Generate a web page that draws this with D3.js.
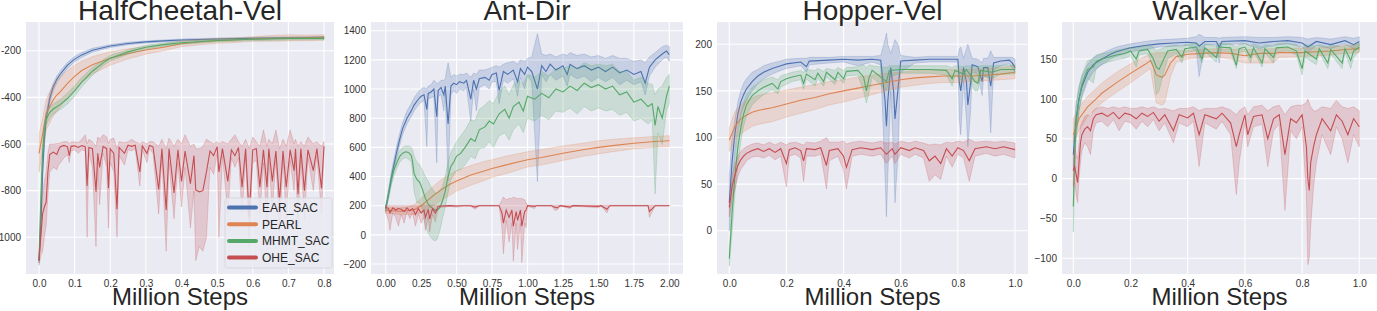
<!DOCTYPE html>
<html>
<head>
<meta charset="utf-8">
<script src="https://cdn.jsdelivr.net/npm/d3@7"></script>
<style>
  body { margin: 0; background: #fff; }
  svg { display: block; font-family: "Liberation Sans", Arial, sans-serif; }
</style>
</head>
<body>
<div id="chart"></div>
<script>
// series names and colours (seaborn "deep")
const seriesNames = ["EAR_SAC", "PEARL", "MHMT_SAC", "OHE_SAC"];
const seriesColors = ["#4c72b0", "#dd8452", "#55a868", "#c44e52"];

// every row: [million steps, mean, lower band, upper band]
// ---- HalfCheetah-Vel
const hcEar = [[0,-1100,-1110,-1090],[0.005,-950,-980,-920],[0.01,-720,-760,-690],[0.015,-580,-610,-550],[0.02,-490,-515,-465],[0.03,-405,-425,-385],[0.04,-355,-372,-340],[0.05,-322,-338,-308],[0.06,-300,-315,-287],[0.08,-262,-276,-250],[0.1,-236,-248,-225],[0.12,-218,-228,-208],[0.15,-198,-206,-190],[0.2,-180,-186,-174],[0.25,-169,-174,-164],[0.3,-162,-167,-158],[0.35,-158,-162,-154],[0.4,-154,-158,-150],[0.5,-150,-154,-146],[0.6,-147,-151,-143],[0.7,-145,-149,-141],[0.8,-143,-148,-139]];
const hcPearl = [[0,-640,-720,-560],[0.01,-560,-640,-490],[0.02,-470,-540,-410],[0.03,-440,-510,-375],[0.04,-410,-480,-345],[0.05,-390,-460,-325],[0.06,-375,-440,-312],[0.08,-340,-400,-285],[0.1,-310,-365,-262],[0.12,-285,-335,-245],[0.15,-260,-300,-225],[0.2,-232,-262,-205],[0.25,-212,-235,-192],[0.3,-197,-215,-182],[0.35,-185,-200,-172],[0.4,-170,-183,-158],[0.45,-163,-175,-152],[0.5,-157,-168,-147],[0.55,-154,-165,-145],[0.6,-150,-160,-140],[0.65,-148,-160,-135],[0.7,-146,-158,-132],[0.75,-145,-157,-133],[0.8,-143,-155,-132]];
const hcMhmt = [[0,-1100,-1110,-1090],[0.005,-850,-900,-800],[0.01,-640,-690,-600],[0.015,-540,-570,-510],[0.02,-495,-520,-470],[0.03,-465,-490,-440],[0.04,-450,-475,-428],[0.05,-440,-462,-418],[0.06,-430,-452,-408],[0.08,-405,-428,-382],[0.1,-372,-395,-350],[0.12,-335,-355,-315],[0.15,-288,-305,-272],[0.18,-252,-265,-240],[0.2,-232,-244,-220],[0.25,-205,-215,-196],[0.3,-185,-193,-177],[0.35,-174,-181,-167],[0.4,-166,-172,-160],[0.5,-156,-162,-150],[0.6,-151,-157,-146],[0.7,-148,-154,-143],[0.8,-147,-153,-142]];
const hcOhe = [[0,-1100,-1120,-1080],[0.005,-1000,-1080,-940],[0.01,-900,-1060,-820],[0.015,-870,-1000,-760],[0.02,-850,-950,-720],[0.025,-720,-820,-640],[0.03,-645,-720,-600],[0.04,-635,-700,-600],[0.05,-645,-710,-598],[0.055,-625,-690,-598],[0.06,-612,-680,-595],[0.07,-606,-660,-590],[0.08,-612,-645,-590],[0.085,-650,-680,-600],[0.09,-610,-630,-592],[0.1,-608,-625,-590],[0.11,-615,-640,-595],[0.12,-607,-625,-580],[0.13,-612,-630,-560],[0.135,-780,-1000,-600],[0.14,-615,-640,-580],[0.15,-620,-700,-590],[0.16,-805,-1040,-610],[0.165,-640,-700,-570],[0.17,-700,-860,-580],[0.18,-610,-640,-560],[0.19,-620,-700,-570],[0.195,-790,-960,-600],[0.2,-620,-680,-580],[0.21,-640,-720,-575],[0.219,-880,-1000,-620],[0.225,-615,-650,-590],[0.24,-640,-690,-595],[0.25,-605,-625,-590],[0.26,-610,-630,-580],[0.27,-605,-620,-590],[0.283,-720,-780,-600],[0.29,-608,-625,-590],[0.303,-640,-680,-600],[0.31,-606,-620,-590],[0.32,-612,-640,-590],[0.336,-795,-900,-610],[0.345,-620,-660,-580],[0.357,-883,-1060,-620],[0.365,-620,-680,-575],[0.379,-810,-920,-610],[0.39,-625,-680,-580],[0.4,-760,-870,-600],[0.41,-630,-700,-560],[0.425,-770,-960,-610],[0.435,-650,-800,-600],[0.44,-797,-1100,-620],[0.45,-805,-1040,-620],[0.46,-800,-1060,-610],[0.47,-720,-1000,-580],[0.48,-630,-700,-590],[0.49,-650,-730,-600],[0.5,-612,-640,-590],[0.505,-720,-1000,-600],[0.515,-620,-650,-590],[0.53,-760,-900,-600],[0.54,-625,-660,-580],[0.55,-650,-700,-560],[0.56,-615,-660,-590],[0.57,-785,-900,-610],[0.58,-620,-660,-580],[0.59,-913,-1040,-620],[0.6,-625,-680,-570],[0.61,-620,-670,-590],[0.62,-785,-900,-610],[0.63,-625,-680,-540],[0.64,-785,-960,-610],[0.645,-620,-670,-580],[0.655,-760,-880,-600],[0.665,-630,-670,-540],[0.675,-843,-980,-620],[0.685,-630,-670,-580],[0.694,-785,-920,-610],[0.705,-625,-670,-540],[0.716,-714,-800,-600],[0.72,-620,-670,-580],[0.727,-815,-950,-610],[0.735,-620,-670,-590],[0.745,-800,-920,-610],[0.755,-625,-660,-570],[0.77,-714,-800,-600],[0.78,-620,-650,-590],[0.793,-790,-900,-610],[0.8,-610,-640,-590]];

// ---- Ant-Dir
const adEar = [[0,180,160,200],[0.02,280,250,310],[0.04,390,350,430],[0.06,490,450,530],[0.08,580,540,620],[0.1,660,620,700],[0.12,730,690,770],[0.15,800,760,850],[0.18,850,810,900],[0.2,890,850,940],[0.23,930,890,980],[0.25,950,910,1000],[0.27,960,920,1010],[0.29,860,605,1000],[0.3,970,930,1020],[0.32,980,940,1030],[0.34,1000,950,1060],[0.36,810,495,1040],[0.37,990,950,1040],[0.39,1010,960,1060],[0.41,960,850,1060],[0.42,1020,970,1070],[0.44,760,370,1180],[0.46,1020,960,1080],[0.48,1040,990,1100],[0.5,1030,970,1090],[0.52,1050,1000,1100],[0.55,1040,990,1100],[0.57,1060,1010,1110],[0.6,930,780,1080],[0.62,1060,1000,1110],[0.64,1000,850,1100],[0.66,1070,1010,1130],[0.7,1080,1030,1130],[0.73,1060,1000,1140],[0.75,1100,1050,1150],[0.78,1110,1050,1160],[0.8,990,900,1150],[0.83,1120,1060,1170],[0.86,1100,1040,1180],[0.9,1130,1070,1190],[0.93,1050,950,1170],[0.95,1140,1080,1200],[0.98,1100,1000,1190],[1.0,1150,1090,1210],[1.03,1120,1050,1220],[1.07,1000,365,1380],[1.1,1160,1100,1240],[1.13,1120,1050,1230],[1.16,1170,1100,1240],[1.2,1130,1060,1220],[1.25,1160,1090,1240],[1.28,1100,1020,1230],[1.3,1170,1100,1250],[1.35,1140,1070,1230],[1.4,1160,1090,1240],[1.45,1130,1050,1220],[1.5,1150,1080,1230],[1.55,1120,1050,1210],[1.6,1150,1080,1230],[1.65,1110,1030,1210],[1.7,1130,1060,1210],[1.75,1100,1030,1190],[1.8,1120,1050,1200],[1.83,1040,960,1180],[1.86,1150,1090,1220],[1.9,1200,1150,1250],[1.95,1240,1200,1290],[1.98,1260,1220,1300],[2.0,1235,1190,1290]];
const adPearl = [[0,170,150,190],[0.05,165,145,185],[0.1,162,140,185],[0.15,165,140,190],[0.2,172,140,205],[0.25,200,150,250],[0.3,240,180,300],[0.35,280,210,345],[0.4,315,240,385],[0.45,345,270,415],[0.5,370,300,440],[0.6,410,340,475],[0.7,440,375,505],[0.75,455,395,515],[0.85,480,420,540],[1.0,515,465,570],[1.1,530,480,585],[1.25,560,510,610],[1.4,585,540,630],[1.5,600,555,645],[1.6,612,570,655],[1.75,628,590,665],[1.9,640,600,675],[2.0,645,605,680]];
const adMhmt = [[0,180,160,200],[0.02,280,250,310],[0.04,380,345,420],[0.06,450,410,490],[0.08,500,460,540],[0.1,540,500,580],[0.12,560,520,600],[0.14,570,530,610],[0.16,565,520,610],[0.18,545,500,600],[0.19,500,420,580],[0.2,420,300,540],[0.22,380,220,500],[0.24,360,220,480],[0.26,310,170,440],[0.28,250,60,400],[0.3,210,10,370],[0.32,190,-20,330],[0.34,175,-40,300],[0.36,165,-35,280],[0.38,185,20,300],[0.4,230,110,330],[0.42,300,190,400],[0.44,400,290,500],[0.46,470,380,570],[0.48,500,410,600],[0.5,540,440,640],[0.53,560,450,680],[0.56,600,480,720],[0.6,660,540,790],[0.63,640,520,780],[0.66,720,590,860],[0.7,740,600,890],[0.73,780,640,920],[0.76,760,600,900],[0.8,830,680,980],[0.84,860,700,1020],[0.87,800,650,960],[0.9,880,720,1030],[0.94,910,760,1060],[0.97,850,700,1030],[1.0,950,800,1100],[1.05,930,780,1080],[1.1,970,820,1120],[1.15,940,790,1090],[1.2,1000,850,1140],[1.25,980,840,1140],[1.3,1020,870,1160],[1.35,990,830,1140],[1.4,1040,880,1180],[1.45,1010,850,1160],[1.5,1030,870,1170],[1.55,1000,850,1160],[1.6,1020,860,1170],[1.65,960,820,1120],[1.7,980,840,1120],[1.75,910,780,1060],[1.8,930,800,1080],[1.85,880,760,1040],[1.88,900,790,1030],[1.9,750,280,960],[1.92,880,700,1000],[1.95,800,620,1020],[1.98,950,850,1080],[2.0,1020,900,1100]];
const adOhe = [[0,190,150,205],[0.02,180,100,200],[0.03,150,30,200],[0.05,185,150,200],[0.07,170,120,200],[0.09,180,60,200],[0.11,175,140,200],[0.13,160,80,200],[0.15,185,160,200],[0.17,165,110,200],[0.19,180,150,200],[0.21,140,60,200],[0.23,180,140,200],[0.25,150,80,200],[0.27,170,120,205],[0.28,120,30,200],[0.3,175,120,205],[0.31,110,20,200],[0.33,180,140,205],[0.35,150,90,200],[0.37,195,185,202],[0.4,198,190,202],[0.45,200,195,202],[0.5,198,190,202],[0.55,200,198,202],[0.6,200,196,202],[0.63,190,175,202],[0.66,200,198,202],[0.8,200,198,202],[0.82,150,50,240],[0.83,80,-130,260],[0.85,170,100,240],[0.87,120,-50,250],[0.89,170,80,250],[0.9,60,-180,260],[0.92,160,80,250],[0.93,100,-100,250],[0.95,170,80,250],[0.96,60,-190,250],[0.98,160,80,240],[0.99,170,50,220],[1.0,200,196,202],[1.05,195,180,202],[1.06,200,198,202],[1.17,200,198,202],[1.19,190,170,202],[1.21,185,170,202],[1.23,200,198,202],[1.3,190,180,202],[1.32,200,198,202],[1.5,195,185,202],[1.52,200,198,202],[1.56,175,150,202],[1.58,200,198,202],[1.85,200,198,202],[1.86,160,120,202],[1.88,180,160,202],[1.9,200,198,202],[2.0,200,198,202]];

// ---- Hopper-Vel
const hpEar = [[0,30,0,60],[0.01,75,50,100],[0.02,105,85,120],[0.03,125,110,138],[0.04,138,125,150],[0.05,146,133,158],[0.06,152,140,163],[0.08,160,150,170],[0.1,166,158,173],[0.12,170,163,177],[0.15,174,168,180],[0.18,177,172,182],[0.2,179,174,184],[0.25,181,177,185],[0.27,176,170,185],[0.28,182,178,186],[0.35,183,180,186],[0.4,184,181,187],[0.45,183,177,187],[0.5,184,181,187],[0.53,183,178,188],[0.545,140,60,205],[0.55,112,15,212],[0.555,140,60,200],[0.565,175,150,190],[0.575,150,80,200],[0.58,120,30,205],[0.59,150,80,200],[0.6,182,170,188],[0.65,183,180,186],[0.7,184,181,187],[0.75,184,181,187],[0.8,184,181,187],[0.805,160,120,195],[0.81,150,103,197],[0.82,175,160,185],[0.83,160,120,195],[0.835,135,90,200],[0.845,160,130,190],[0.85,178,170,185],[0.87,176,168,184],[0.885,160,145,180],[0.89,175,165,185],[0.905,175,165,185],[0.915,155,105,193],[0.925,180,172,186],[0.95,182,177,186],[0.98,183,179,186],[0.99,180,175,186],[1.0,175,170,184]];
const hpPearl = [[0,97,85,110],[0.01,105,90,120],[0.02,112,98,128],[0.04,120,104,135],[0.06,124,108,140],[0.08,127,112,143],[0.1,129,114,145],[0.15,132,117,148],[0.2,136,122,151],[0.25,140,126,154],[0.3,143,130,157],[0.35,147,135,160],[0.4,150,138,162],[0.45,153,142,165],[0.5,156,146,167],[0.55,159,150,169],[0.6,162,154,170],[0.65,164,156,172],[0.7,165,158,173],[0.75,166,159,173],[0.8,166,159,173],[0.85,166,160,173],[0.9,167,161,174],[0.95,168,162,175],[1.0,170,163,177]];
const hpMhmt = [[0,-30,-38,-20],[0.01,20,0,40],[0.02,60,40,80],[0.03,90,70,105],[0.04,110,95,125],[0.05,125,112,137],[0.06,135,123,146],[0.08,145,135,154],[0.1,150,141,158],[0.12,154,146,162],[0.15,158,151,165],[0.17,152,147,162],[0.18,160,154,166],[0.2,163,157,168],[0.22,165,160,170],[0.25,167,162,172],[0.26,158,152,170],[0.27,168,163,173],[0.3,162,155,172],[0.31,169,164,174],[0.33,160,155,171],[0.34,170,165,174],[0.37,162,157,172],[0.38,170,165,175],[0.4,163,158,172],[0.41,171,166,175],[0.45,172,167,176],[0.47,165,150,178],[0.48,150,137,175],[0.49,165,150,178],[0.5,172,165,177],[0.55,160,150,175],[0.56,172,165,177],[0.6,173,169,177],[0.7,173,169,177],[0.76,172,167,177],[0.78,163,155,175],[0.79,172,167,177],[0.82,168,160,176],[0.83,173,168,177],[0.86,160,150,176],[0.87,158,150,176],[0.88,172,167,177],[0.92,170,163,177],[0.95,173,168,177],[1.0,173,168,178]];
const hpOhe = [[0,25,15,35],[0.01,48,35,60],[0.02,60,45,72],[0.03,70,58,80],[0.04,76,66,85],[0.05,80,70,88],[0.06,83,75,90],[0.08,86,79,93],[0.1,88,80,94],[0.12,85,78,92],[0.14,88,81,95],[0.16,84,76,92],[0.18,88,80,95],[0.2,72,47,92],[0.21,87,80,94],[0.23,89,82,95],[0.25,86,78,93],[0.26,75,53,92],[0.27,88,80,95],[0.3,87,80,94],[0.32,89,82,96],[0.34,70,45,100],[0.35,86,75,95],[0.38,88,80,95],[0.4,80,65,96],[0.41,68,45,93],[0.43,87,80,95],[0.46,89,82,96],[0.5,87,80,94],[0.53,89,82,96],[0.55,82,72,94],[0.57,88,80,95],[0.58,82,72,93],[0.6,89,82,96],[0.63,86,78,94],[0.65,89,82,96],[0.68,86,78,94],[0.7,75,53,92],[0.72,80,60,93],[0.74,72,55,92],[0.76,88,80,95],[0.78,80,68,94],[0.8,89,82,96],[0.82,86,78,95],[0.84,75,53,98],[0.86,88,80,95],[0.9,90,83,96],[0.93,88,80,95],[0.96,90,82,96],[1.0,87,78,94]];

// ---- Walker-Vel
const wkEar = [[0,30,10,50],[0.01,75,55,95],[0.02,100,85,115],[0.03,115,102,128],[0.05,133,122,143],[0.07,143,134,152],[0.1,150,143,157],[0.13,156,150,162],[0.15,159,153,165],[0.2,164,159,169],[0.25,167,162,172],[0.3,169,165,174],[0.35,170,166,175],[0.4,171,167,176],[0.43,170,160,178],[0.44,166,128,181],[0.46,172,168,177],[0.5,172,168,177],[0.51,165,145,176],[0.52,172,168,177],[0.6,173,169,178],[0.65,170,163,177],[0.7,172,167,177],[0.75,173,169,178],[0.8,170,165,177],[0.82,165,158,175],[0.85,172,167,177],[0.9,168,163,175],[0.95,173,169,178],[0.98,168,163,176],[1.0,172,167,178]];
const wkPearl = [[0,55,45,75],[0.02,75,60,90],[0.05,90,78,103],[0.08,100,88,113],[0.1,107,95,120],[0.15,120,108,133],[0.2,132,120,144],[0.25,143,133,153],[0.27,148,138,157],[0.28,140,115,157],[0.29,130,95,158],[0.31,127,92,158],[0.32,130,95,158],[0.34,145,128,158],[0.36,153,146,160],[0.4,156,150,161],[0.45,157,152,162],[0.5,158,153,163],[0.55,157,150,162],[0.6,154,145,162],[0.65,157,145,162],[0.7,157,145,163],[0.72,158,152,163],[0.8,158,153,164],[0.85,159,154,164],[0.9,160,155,165],[0.95,162,157,167],[1.0,163,158,168]];
const wkMhmt = [[0,-35,-67,0],[0.005,30,0,60],[0.01,70,50,90],[0.02,100,85,115],[0.03,118,105,130],[0.05,137,126,148],[0.07,140,120,150],[0.08,147,138,155],[0.1,150,143,157],[0.12,152,146,158],[0.15,155,149,161],[0.18,157,151,163],[0.2,160,154,165],[0.22,150,140,163],[0.23,160,155,165],[0.26,162,157,167],[0.28,150,140,165],[0.29,140,105,160],[0.3,137,110,162],[0.31,145,125,163],[0.33,160,150,166],[0.36,162,157,167],[0.38,152,145,165],[0.39,163,158,168],[0.43,165,160,170],[0.45,150,145,166],[0.46,164,159,169],[0.5,152,146,166],[0.51,165,160,170],[0.55,164,159,169],[0.57,142,138,165],[0.58,163,158,168],[0.6,165,160,170],[0.62,152,145,166],[0.63,164,159,169],[0.66,145,140,165],[0.67,163,158,168],[0.7,152,145,166],[0.71,164,159,169],[0.75,165,160,170],[0.78,160,155,168],[0.8,138,130,162],[0.81,160,152,168],[0.85,150,143,166],[0.86,163,158,168],[0.89,145,138,165],[0.9,162,156,168],[0.94,145,138,165],[0.95,163,158,168],[0.97,148,138,165],[0.98,160,152,168],[1.0,165,160,170]];
const wkOhe = [[0,10,-10,30],[0.005,15,-5,40],[0.01,5,-20,30],[0.015,-5,-30,25],[0.02,20,0,45],[0.025,45,20,65],[0.03,55,35,70],[0.04,62,45,78],[0.05,65,40,80],[0.06,60,30,78],[0.07,75,60,85],[0.08,80,70,88],[0.1,82,72,90],[0.12,78,65,88],[0.14,83,74,90],[0.16,75,60,88],[0.18,82,72,90],[0.2,80,70,88],[0.22,75,62,88],[0.24,82,72,90],[0.26,78,65,88],[0.28,83,74,90],[0.3,72,60,87],[0.32,80,70,88],[0.35,60,45,85],[0.37,80,70,88],[0.4,76,65,88],[0.42,82,72,90],[0.44,55,15,85],[0.46,80,70,88],[0.5,75,62,88],[0.52,82,72,90],[0.55,70,55,86],[0.57,40,-20,80],[0.58,55,20,85],[0.6,80,70,90],[0.61,55,40,80],[0.63,78,65,90],[0.66,80,68,92],[0.68,50,15,85],[0.7,75,60,90],[0.72,80,68,92],[0.74,30,-40,80],[0.76,75,60,90],[0.78,70,50,92],[0.8,80,65,92],[0.815,40,-20,95],[0.82,0,-108,100],[0.825,-15,-100,95],[0.83,20,-60,90],[0.84,40,-10,85],[0.85,55,20,85],[0.87,75,55,90],[0.9,60,30,88],[0.92,80,65,98],[0.94,72,50,90],[0.96,55,20,88],[0.98,75,55,90],[1.0,65,40,85]];

// ticks
const hcXTicks = [0, 0.1, 0.2, 0.3, 0.4, 0.5, 0.6, 0.7, 0.8];
const hcXLabels = ["0.0", "0.1", "0.2", "0.3", "0.4", "0.5", "0.6", "0.7", "0.8"];
const hcYTicks = [-1000, -800, -600, -400, -200];
const hcYLabels = ["-1000", "-800", "-600", "-400", "-200"];
const adXTicks = [0, 0.25, 0.5, 0.75, 1, 1.25, 1.5, 1.75, 2];
const adXLabels = ["0.00", "0.25", "0.50", "0.75", "1.00", "1.25", "1.50", "1.75", "2.00"];
const adYTicks = [-200, 0, 200, 400, 600, 800, 1000, 1200, 1400];
const adYLabels = ["\u2212200", "0", "200", "400", "600", "800", "1000", "1200", "1400"];
const hpXTicks = [0, 0.2, 0.4, 0.6, 0.8, 1];
const hpXLabels = ["0.0", "0.2", "0.4", "0.6", "0.8", "1.0"];
const hpYTicks = [0, 50, 100, 150, 200];
const hpYLabels = ["0", "50", "100", "150", "200"];
const wkXTicks = [0, 0.2, 0.4, 0.6, 0.8, 1];
const wkXLabels = ["0.0", "0.2", "0.4", "0.6", "0.8", "1.0"];
const wkYTicks = [-100, -50, 0, 50, 100, 150];
const wkYLabels = ["\u2212100", "\u221250", "0", "50", "100", "150"];

const width = 1377, height = 311;
const plotTop = 22, plotBottom = 274;

const panels = [
  { title: "HalfCheetah-Vel", data: [hcEar, hcPearl, hcMhmt, hcOhe],
    xt: hcXTicks, xl: hcXLabels, yt: hcYTicks, yl: hcYLabels,
    left: 26, right: 334, xPx: [39, 324], yPx: [237.3, 50.7], legend: true },
  { title: "Ant-Dir", data: [adEar, adPearl, adMhmt, adOhe],
    xt: adXTicks, xl: adXLabels, yt: adYTicks, yl: adYLabels,
    left: 371, right: 683, xPx: [385.7, 669.3], yPx: [264, 30.7] },
  { title: "Hopper-Vel", data: [hpEar, hpPearl, hpMhmt, hpOhe],
    xt: hpXTicks, xl: hpXLabels, yt: hpYTicks, yl: hpYLabels,
    left: 717, right: 1028, xPx: [729.3, 1015], yPx: [230.7, 44.3] },
  { title: "Walker-Vel", data: [wkEar, wkPearl, wkMhmt, wkOhe],
    xt: wkXTicks, xl: wkXLabels, yt: wkYTicks, yl: wkYLabels,
    left: 1062, right: 1377, xPx: [1073.3, 1359.3], yPx: [258.3, 59] }
];

const svg = d3.select("#chart").append("svg")
    .attr("width", width)
    .attr("height", height)
    .attr("viewBox", [0, 0, width, height]);

svg.append("rect").attr("width", width).attr("height", height).attr("fill", "#fff");

panels.forEach((p, pi) => {
  const x = d3.scaleLinear()
      .domain([p.xt[0], p.xt[p.xt.length - 1]])
      .range(p.xPx);
  const y = d3.scaleLinear()
      .domain([p.yt[0], p.yt[p.yt.length - 1]])
      .range(p.yPx);

  const g = svg.append("g");

  g.append("rect")
      .attr("x", p.left).attr("y", plotTop)
      .attr("width", p.right - p.left).attr("height", plotBottom - plotTop)
      .attr("fill", "#eaeaf2");

  // white grid
  g.append("g").selectAll("line").data(p.xt).join("line")
      .attr("x1", d => x(d)).attr("x2", d => x(d))
      .attr("y1", plotTop).attr("y2", plotBottom)
      .attr("stroke", "#fff").attr("stroke-width", 1.1);
  g.append("g").selectAll("line").data(p.yt).join("line")
      .attr("x1", p.left).attr("x2", p.right)
      .attr("y1", d => y(d)).attr("y2", d => y(d))
      .attr("stroke", "#fff").attr("stroke-width", 1.1);

  const clipId = "clip" + pi;
  svg.append("clipPath").attr("id", clipId)
    .append("rect")
      .attr("x", p.left).attr("y", plotTop)
      .attr("width", p.right - p.left).attr("height", plotBottom - plotTop);

  const plot = g.append("g").attr("clip-path", `url(#${clipId})`);

  const area = d3.area()
      .x(d => x(d[0]))
      .y0(d => y(d[2]))
      .y1(d => y(d[3]));
  const line = d3.line()
      .x(d => x(d[0]))
      .y(d => y(d[1]));

  p.data.forEach((rows, si) => {
    const c = seriesColors[si];
    plot.append("path")
        .datum(rows)
        .attr("d", area)
        .attr("fill", c)
        .attr("fill-opacity", 0.22)
        .attr("stroke", c)
        .attr("stroke-opacity", 0.3)
        .attr("stroke-width", 0.8);
    plot.append("path")
        .datum(rows)
        .attr("d", line)
        .attr("fill", "none")
        .attr("stroke", c)
        .attr("stroke-width", 1.1);
  });

  // axes
  g.append("g")
      .attr("transform", `translate(0,${plotBottom})`)
      .call(d3.axisBottom(x).tickValues(p.xt).tickFormat((d, i) => p.xl[i]).tickSize(0).tickPadding(6))
      .call(a => a.select(".domain").remove())
      .call(a => a.selectAll("text")
          .attr("fill", "#333")
          .style("font-size", "10px")
          .style("font-family", "'Liberation Sans', Arial, sans-serif"));

  g.append("g")
      .attr("transform", `translate(${p.left},0)`)
      .call(d3.axisLeft(y).tickValues(p.yt).tickFormat((d, i) => p.yl[i]).tickSize(0).tickPadding(5))
      .call(a => a.select(".domain").remove())
      .call(a => a.selectAll("text")
          .attr("fill", "#333")
          .style("font-size", "10px")
          .style("font-family", "'Liberation Sans', Arial, sans-serif"));

  const cx = (p.left + p.right) / 2;
  g.append("text")
      .attr("x", cx).attr("y", 20)
      .attr("text-anchor", "middle")
      .attr("fill", "#262626")
      .style("font-size", "28px")
      .text(p.title);

  g.append("text")
      .attr("x", cx).attr("y", 305)
      .attr("text-anchor", "middle")
      .attr("fill", "#262626")
      .style("font-size", "24px")
      .text("Million Steps");

  if (p.legend) {
    const lg = g.append("g").attr("transform", "translate(225,198)");
    lg.append("rect")
        .attr("width", 107).attr("height", 70)
        .attr("rx", 2)
        .attr("fill", "#eaeaf2").attr("fill-opacity", 0.85)
        .attr("stroke", "#d4d4d8").attr("stroke-width", 0.8);
    seriesNames.forEach((name, i) => {
      const yy = 9.5 + i * 16.7;
      lg.append("line")
          .attr("x1", 4).attr("x2", 31)
          .attr("y1", yy).attr("y2", yy)
          .attr("stroke", seriesColors[i])
          .attr("stroke-width", 4)
          .attr("stroke-linecap", "round");
      lg.append("text")
          .attr("x", 37).attr("y", yy)
          .attr("dy", "0.36em")
          .attr("fill", "#262626")
          .style("font-size", "12px")
          .text(name);
    });
  }
});
</script>
</body>
</html>
